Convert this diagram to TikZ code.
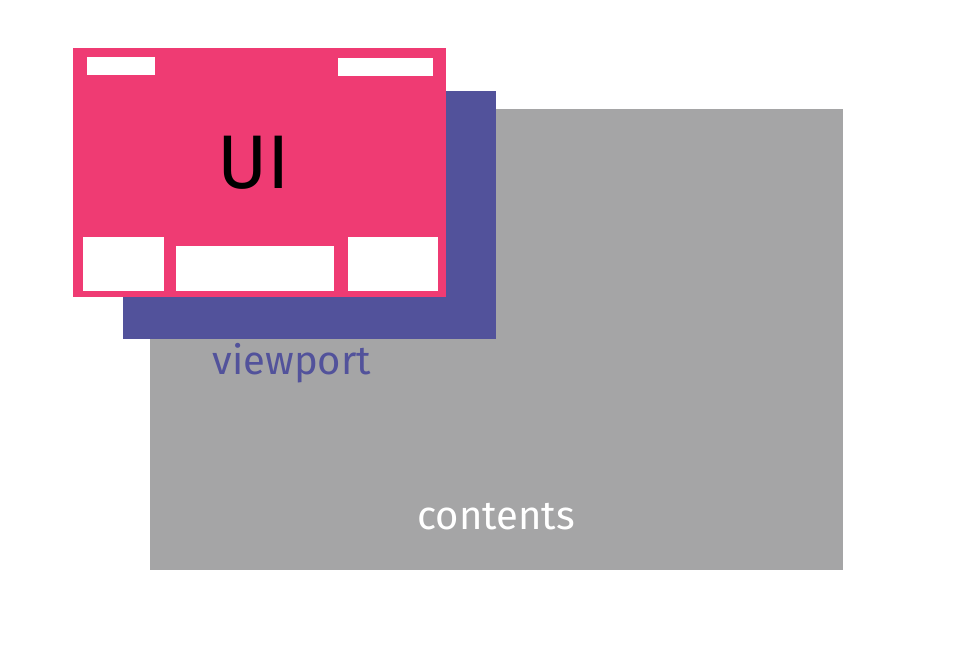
\documentclass[tikz,border=0pt]{standalone}
\usepackage{fontspec}
\setmainfont{Fira Sans}
\definecolor{contentgray}{HTML}{A5A5A6}
\definecolor{viewblue}{HTML}{52529B}
\definecolor{uipink}{HTML}{EF3B73}
\tikzset{
  panel/.style={fill=white, draw=none},
  label/.style={inner sep=0pt, font=\fontsize{40}{40}\selectfont}
}
\begin{document}
\begin{tikzpicture}[x=1pt, y=-1pt]
  \useasboundingbox (0,0) rectangle (966,647);
  % contents
  \fill[contentgray] (150,109) rectangle (843,570);
  \node[label, text=white] (contents) at (496,517) {contents};
  % viewport
  \fill[viewblue] (123,91) rectangle (496,339);
  \node[label, text=viewblue] (viewport) at (292,363) {viewport};
  % UI layer
  \fill[uipink] (73,48) rectangle (446,297);
  \fill[panel] (87,57) rectangle (155,75);
  \fill[panel] (338,58) rectangle (433,76);
  \fill[panel] (83,237) rectangle (164,291);
  \fill[panel] (176,246) rectangle (334,291);
  \fill[panel] (348,237) rectangle (438,291);
  \node[inner sep=0pt, font=\fontsize{76}{76}\selectfont] (ui) at (254,163) {UI};
\end{tikzpicture}
\end{document}
